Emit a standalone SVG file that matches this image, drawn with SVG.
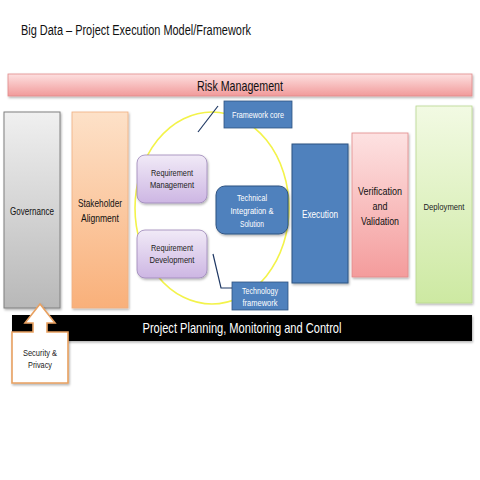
<svg xmlns="http://www.w3.org/2000/svg" width="480" height="480" viewBox="0 0 480 480">
<defs>
<linearGradient id="gRisk" x1="0" y1="0" x2="0" y2="1"><stop offset="0" stop-color="#fde0e0"/><stop offset="1" stop-color="#f19a9a"/></linearGradient>
<linearGradient id="gGov" x1="0" y1="0" x2="0" y2="1"><stop offset="0" stop-color="#f0f0f0"/><stop offset="1" stop-color="#b8b8b8"/></linearGradient>
<linearGradient id="gStake" x1="0" y1="0" x2="0" y2="1"><stop offset="0" stop-color="#fde1c8"/><stop offset="1" stop-color="#f9b07a"/></linearGradient>
<linearGradient id="gReq" x1="0" y1="0" x2="0" y2="1"><stop offset="0" stop-color="#f1eaf7"/><stop offset="1" stop-color="#cdb6e3"/></linearGradient>
<linearGradient id="gVer" x1="0" y1="0" x2="0" y2="1"><stop offset="0" stop-color="#fde2e2"/><stop offset="1" stop-color="#f49c9c"/></linearGradient>
<linearGradient id="gDep" x1="0" y1="0" x2="0" y2="1"><stop offset="0" stop-color="#f2fae3"/><stop offset="1" stop-color="#cde9a2"/></linearGradient>
<filter id="sh" x="-10%" y="-10%" width="130%" height="130%"><feDropShadow dx="1" dy="1.5" stdDeviation="1" flood-color="#000" flood-opacity="0.3"/></filter>
</defs>
<style>
text{font-family:"Liberation Sans",Arial,sans-serif;text-anchor:middle}
.t{font-size:11.5px;fill:#111}
.s{font-size:9.5px;fill:#222}
.w{fill:#fff}
.box{filter:url(#sh)}
.ln{stroke:#1f3864;stroke-width:1.2;fill:none}
</style>
<rect width="480" height="480" fill="#fff"/>
<text x="21" y="35" textLength="230" lengthAdjust="spacingAndGlyphs" style="text-anchor:start;font-size:14px;fill:#111">Big Data – Project Execution Model/Framework</text>

<g id="risk"><rect class="box" x="8" y="74" width="464" height="22" fill="url(#gRisk)" stroke="#e08a8a" stroke-width="0.8"/><text x="240" y="91" textLength="86" lengthAdjust="spacingAndGlyphs" style="font-size:14.5px;fill:#111">Risk Management</text></g>

<g id="governance"><rect class="box" x="4" y="112" width="56" height="196" fill="url(#gGov)" stroke="#808080" stroke-width="1"/><text class="t" x="32" y="215" textLength="44" lengthAdjust="spacingAndGlyphs">Governance</text></g>

<g id="stakeholder"><rect class="box" x="72" y="112" width="56" height="196" fill="url(#gStake)" stroke="#f0b080" stroke-width="0.8"/><text class="t" x="100" y="207" textLength="44" lengthAdjust="spacingAndGlyphs">Stakeholder</text><text class="t" x="100" y="222" textLength="38" lengthAdjust="spacingAndGlyphs">Alignment</text></g>

<g id="circle"><ellipse cx="212" cy="208" rx="77" ry="96" fill="none" stroke="#f3f34a" stroke-width="1.6"/></g>

<g id="reqmgmt"><rect class="box" x="137" y="155" width="70" height="48" rx="8" fill="url(#gReq)" stroke="#9c86b8" stroke-width="0.8"/><text class="s" x="172" y="176" textLength="42" lengthAdjust="spacingAndGlyphs">Requirement</text><text class="s" x="172" y="188" textLength="44" lengthAdjust="spacingAndGlyphs">Management</text></g>

<g id="reqdev"><rect class="box" x="137" y="230" width="70" height="48" rx="8" fill="url(#gReq)" stroke="#9c86b8" stroke-width="0.8"/><text class="s" x="172" y="251" textLength="42" lengthAdjust="spacingAndGlyphs">Requirement</text><text class="s" x="172" y="263" textLength="45" lengthAdjust="spacingAndGlyphs">Development</text></g>

<g id="techint"><rect class="box" x="216" y="186" width="72" height="48" rx="9" fill="#4f81bd" stroke="#2f5381" stroke-width="1"/><text class="s w" x="252" y="201" textLength="30" lengthAdjust="spacingAndGlyphs">Technical</text><text class="s w" x="252" y="214" textLength="43" lengthAdjust="spacingAndGlyphs">Integration &amp;</text><text class="s w" x="252" y="227" textLength="24" lengthAdjust="spacingAndGlyphs">Solution</text></g>

<g id="fwcore"><rect x="224" y="101" width="68" height="27" fill="#4f81bd" stroke="#2f5381" stroke-width="0.8"/><text class="s w" x="258" y="118" textLength="52" lengthAdjust="spacingAndGlyphs">Framework core</text></g>

<g id="techfw"><rect x="232" y="282" width="56" height="28" fill="#4f81bd" stroke="#2f5381" stroke-width="0.8"/><text class="s w" x="260" y="294" textLength="36" lengthAdjust="spacingAndGlyphs">Technology</text><text class="s w" x="260" y="306" textLength="35" lengthAdjust="spacingAndGlyphs">framework</text></g>

<g id="execution"><rect class="box" x="292" y="144" width="56" height="139" fill="#4f81bd" stroke="#2f5381" stroke-width="1"/><text class="t w" x="320" y="218" textLength="36" lengthAdjust="spacingAndGlyphs">Execution</text></g>

<g id="verification"><rect class="box" x="352" y="133" width="56" height="144" fill="url(#gVer)" stroke="#e08a8a" stroke-width="0.8"/><text class="t" x="380" y="195" textLength="44" lengthAdjust="spacingAndGlyphs">Verification</text><text class="t" x="380" y="210" textLength="15" lengthAdjust="spacingAndGlyphs">and</text><text class="t" x="380" y="225" textLength="38" lengthAdjust="spacingAndGlyphs">Validation</text></g>

<g id="deployment"><rect class="box" x="416" y="106" width="56" height="197" fill="url(#gDep)" stroke="#b8d890" stroke-width="0.8"/><text class="s" x="444" y="210" textLength="41" lengthAdjust="spacingAndGlyphs">Deployment</text></g>

<g id="planning"><rect class="box" x="12" y="315" width="460" height="26" fill="#000"/><text x="242" y="333" textLength="199" lengthAdjust="spacingAndGlyphs" style="font-size:14.5px;fill:#fff">Project Planning, Monitoring and Control</text></g>

<g id="security"><path class="box" d="M12,332 H33 V323 H25 L40,304 L55,323 H47 V332 H68 V383 H12 Z" fill="#fff" stroke="#e8a060" stroke-width="1.6" stroke-linejoin="miter"/><text class="s" x="40" y="356" textLength="34" lengthAdjust="spacingAndGlyphs">Security &amp;</text><text class="s" x="40" y="368" textLength="24" lengthAdjust="spacingAndGlyphs">Privacy</text></g>

<g id="connectors"><path class="ln" d="M198,132 L218,106"/><path class="ln" d="M213,254 L221,288 H232"/></g>
</svg>
